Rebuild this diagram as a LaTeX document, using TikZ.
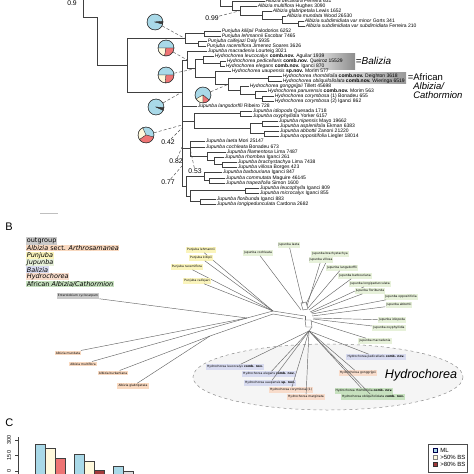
\documentclass[tikz,border=0pt]{standalone}
\usepackage{fontspec}
\setmainfont{Liberation Sans}
\newfontfamily\dejavu{DejaVu Sans}
\definecolor{mlblue}{HTML}{A9D9E8}
\definecolor{bscream}{HTML}{FFF9DC}
\definecolor{bsred}{HTML}{EE7474}
\definecolor{bsdark}{HTML}{3A3A3A}
\definecolor{darkred}{HTML}{A33A3A}
\definecolor{cOut}{HTML}{CACACA}
\definecolor{cArt}{HTML}{F9D9C0}
\definecolor{cPun}{HTML}{FAF4BC}
\definecolor{cJup}{HTML}{E7F1DA}
\definecolor{cBal}{HTML}{D8DBF0}
\definecolor{cHyd}{HTML}{F8DCCB}
\definecolor{cAfr}{HTML}{C7E1BF}
\tikzset{
 twig/.style={draw=black!75,line width=.55pt},
 taxon/.style={anchor=west,inner sep=0.6pt,font=\fontsize{5}{5.5}\selectfont},
 support/.style={densely dashed,line width=.45pt,draw=black!70},
 bsval/.style={font=\fontsize{6.8}{7}\selectfont,inner sep=0.3pt},
 pienode/.style={circle,minimum size=16pt,inner sep=0pt},
 nettaxon/.style={fill=#1,inner sep=1.1pt,font=\dejavu\fontsize{3}{3.5}\selectfont},
 legitem/.style={fill=#1,inner sep=0.6pt,anchor=west,font=\dejavu\fontsize{6.5}{7}\selectfont},
 netline/.style={draw=black!60,line width=.45pt},
 barbox/.style={fill=#1,draw=black!75,line width=.6pt},
}
% pie of ML / BS support at a node
\newcommand{\supportpie}[2]{%
 \foreach \a/\b/\c in {#2}{\filldraw[fill=\c,draw=black!80,line width=.3pt] (#1.center) -- ++(\a:8) arc[start angle=\a,end angle=\b,radius=8] -- cycle;}
 \draw[black!80,line width=.45pt] (#1.center) circle[radius=8];}
\begin{document}
\begin{tikzpicture}[x=1pt,y=-1pt,line width=.55pt]
 \useasboundingbox (0,0) rectangle (474,474);
 %% A: tree, internal nodes
 \foreach \n/\x/\y in {aR/220/-3,a0/232/5.85,a1/240/10.7,a2/262/15.4,a3/282/19.75,a45/298/23.5,
   r0/83/-3,r1/97/17,r2/127/65,p0/185/38.5,pA/204/33.5,pB/198/43.5,s0/182/92,
   h0/187/59.85,h1/195/68.7,b0/203/59.75,b1/220/63.5,u0/215/77.7,f1/228/84.45,f0/268/78.5,
   c3/240/90.4,c2/255/94.75,c12/262/98.5,jio/240/113.5,j4/250/128.5,jna/262/123.5,jao/264/133.5,
   j1/194/121,k1/190/148,kfr/207/156.4,krb/214/160.75,kbv/222/164.5,kb/204/176.25,kct/209/180.5,
   klm/245/190.5,kfl/200/201.5,k2/190/196,k3/186/186}
   \coordinate (\n) at (\x,\y);
 %% grey boxes behind Balizia and African labels
 \shade[left color=black!6,right color=black!45] (311,53) rectangle (355,69);
 \shade[left color=black!6,right color=black!40] (330,72.5) rectangle (406,83.5);
 %% tips
 \foreach \n/\x/\y/\t in {
   A0/265/1/{\textit{Albizia decandra} Ferreira 631},
   A1/257/6/{\textit{Albizia multiflora} Hughes 3090},
   A2/272/11/{\textit{Albizia glabripetala} Lewis 1652},
   A3/286/16/{\textit{Albizia mundata} Wood 26530},
   A4/304/21/{\textit{Albizia subdimidiata var minor} Gorts 341},
   A5/305/26/{\textit{Albizia subdimidiata var subdimidiata} Ferreira 210},
   P1/221/31/{\textit{Punjuba killipii} Palodorios 6252},
   P2/221/36/{\textit{Punjuba lehmannii} Escobar 7465},
   P3/207/41/{\textit{Punjuba caifejazi} Daly 5935},
   P4/206/46/{\textit{Punjuba racemiflora} Jimenez Soares 3626},
   M1/207/51/{\textit{Jupunba macradenia} Lourteig 3021},
   H1/214/56/{\textit{Hydrochorea leucocalyx} \textbf{comb.nov.} Aguilar 1939},
   H2/226/61/{\textit{Hydrochorea pedicellaris} \textbf{comb.nov.} Queiroz 15529},
   H3/225/66/{\textit{Hydrochorea elegans} \textbf{comb.nov.} Iganci 870},
   H4/231/71/{\textit{Hydrochorea uaupensis} \textbf{sp.nov.} Morim 577},
   H5/282/76/{\textit{Hydrochorea rhombifolia} \textbf{comb.nov.} Deighton 3618},
   H6/282/81/{\textit{Hydrochorea obliquifoliolata} \textbf{comb.nov.} Wieringa 6519},
   H7/249/86/{\textit{Hydrochorea gonggrijpii} Tillett 45698},
   H8/267/91/{\textit{Hydrochorea panurensis} \textbf{comb.nov.} Morim 563},
   H9/274/96/{\textit{Hydrochorea corymbosa} (1) Bonadeu 655},
   H10/274/101/{\textit{Hydrochorea corymbosa} (2) Iganci 862},
   L1/197/106/{\textit{Jupunba langsdorffii} Ribeiro 728},
   J1/252/111/{\textit{Jupunba idiopoda} Quesada 1718},
   J2/252/116/{\textit{Jupunba oxyphyllidia} Yorker 6157},
   J3/278/121/{\textit{Jupunba nipensis} Mayo 19662},
   J4/279/126/{\textit{Jupunba asplenifolia} Ekman 6383},
   J5/279/131/{\textit{Jupunba abbottii} Zanoni 21220},
   J6/279/136/{\textit{Jupunba oppositifolia} Liegler 18014},
   K1/205/141/{\textit{Jupunba laeta} Mori 25147},
   K2/205/147/{\textit{Jupunba cochleata} Bonadeu 673},
   K3/226/152/{\textit{Jupunba filamentosa} Lima 7487},
   K4/224/157/{\textit{Jupunba rhombea} Iganci 261},
   K5/237/162/{\textit{Jupunba brachystachya} Lima 7438},
   K6/237/167/{\textit{Jupunba villosa} Borges 423},
   K7/222/172/{\textit{Jupunba barbouriana} Iganci 847},
   K8/225/178/{\textit{Jupunba commutata} Maguire 46145},
   K9/225/183/{\textit{Jupunba trapezifolia} Simon 1600},
   K10/259/188/{\textit{Jupunba leucophylla} Iganci 809},
   K11/259/193/{\textit{Jupunba microcalyx} Iganci 855},
   K12/216/199/{\textit{Jupunba floribunda} Iganci 883},
   K13/216/204/{\textit{Jupunba longipedunculata} Cardona 2682}}
   {\coordinate (\n) at (\x,\y); \node[taxon] (\n l) at (\n) {\t};}
 %% branches
 \foreach \p/\c in {aR/a0,a0/A0,a0/a1,a1/A1,a1/a2,a2/A2,a2/a3,a3/A3,a3/a45,a45/A4,a45/A5,
   r0/r1,r1/r2,r2/p0,r2/s0,p0/pA,p0/pB,pA/P1,pA/P2,pB/P3,pB/P4,
   s0/h0,s0/L1,s0/j1,s0/k1,s0/k3,h0/M1,h0/h1,h1/b0,h1/u0,b0/H1,b0/b1,b1/H2,b1/H3,
   u0/H4,u0/f1,f1/f0,f1/c3,f0/H5,f0/H6,c3/H7,c3/c2,c2/H8,c2/c12,c12/H9,c12/H10,
   j1/jio,j1/j4,jio/J1,jio/J2,j4/jna,j4/jao,jna/J3,jna/J4,jao/J5,jao/J6,
   k1/K1,k1/K2,k1/kfr,kfr/K3,kfr/krb,krb/K4,krb/kbv,kbv/K5,kbv/K6,
   k3/kb,k3/k2,kb/K7,kb/kct,kct/K8,kct/K9,k2/klm,k2/kfl,klm/K10,klm/K11,kfl/K12,kfl/K13}
   \draw[twig] (\p) |- (\c);
 \node[anchor=west,font=\fontsize{10}{12}\selectfont,inner sep=0.5pt] (bal) at (355,61) {=\textit{Balizia}};
 \node[anchor=north west,align=left,font=\fontsize{9.5}{9.3}\selectfont,inner sep=0.5pt] (afr) at (407,72.5)
   {=African\\\hphantom{=}\textit{Albizia/}\\\hphantom{=}\textit{Cathormion}};
 %% support values
 \node[bsval] (v09) at (72,3) {0.9};
 \node[bsval] (v099) at (212,18) {0.99};
 \node[bsval] (v042) at (168,142) {0.42};
 \node[bsval] (v082) at (176,161) {0.82};
 \node[bsval] (v053) at (195,171) {0.53};
 \node[bsval] (v077) at (168,182) {0.77};
 \coordinate (e042) at (182,128);
 \coordinate (e06) at (182,125);
 \coordinate (e082) at (182,147);
 \coordinate (e077) at (182,166);
 \draw[support] (v099) -- (a1);
 \draw[support] (v042) -- (e042);
 \draw[support] (v082) -- (e082);
 \draw[support] (v053) -- (k1);
 \draw[support] (v077) -- (e077);
 %% pies
 \node[pienode] (pie1) at (155,22) {};
 \node[pienode] (pie2) at (166,48) {};
 \node[pienode] (pie3) at (166,75) {};
 \node[pienode] (pie4) at (203,95) {};
 \node[pienode] (pie5) at (156,107) {};
 \node[pienode] (pie6) at (146,135) {};
 \draw[support] (pie1) -- (p0);
 \draw[support] (pie2) -- (h0);
 \draw[support] (pie3) -- (h1);
 \draw[support] (pie4) -- (f1);
 \draw[support] (pie5) -- (s0);
 \draw[support] (pie6) -- (e06);
 \supportpie{pie1}{15/355/mlblue,-5/15/bsdark}
 \supportpie{pie2}{180/360/mlblue,100/180/bscream,0/100/bsred}
 \supportpie{pie3}{180/360/mlblue,95/180/bscream,0/95/bsred}
 \supportpie{pie4}{150/400/mlblue,90/150/bscream,40/90/bsred}
 \supportpie{pie5}{25/365/mlblue,5/25/bsdark}
 \supportpie{pie6}{245/375/mlblue,145/245/bscream,15/145/bsred}
 \draw[black!25,line width=.5pt] (40,213) -- (58,213);
 %% B: network
 \node[anchor=west,font=\fontsize{11}{12}\selectfont,inner sep=0pt] (lblB) at (5,227) {B};
 \foreach \i/\c/\t in {0/cOut/outgroup,1/cArt/{\textit{Albizia} sect. \textit{Arthrosamanea}},
   2/cPun/\textit{Punjuba},3/cJup/\textit{Jupunba},4/cBal/\textit{Balizia},
   5/cHyd/\textit{Hydrochorea},6/cAfr/{African \textit{Albizia/Cathormion}}}
   \node[legitem=\c] (leg\i) at (26,241+7.15*\i) {\t};
 \draw[dashed,black!45,fill=black!4,line width=.5pt] (328,377) ellipse[x radius=135,y radius=33];
 \node[font=\fontsize{12.6}{14}\selectfont\itshape] (hydro) at (421,375) {Hydrochorea};
 \coordinate (hub) at (305,316);
 \coordinate (hubb) at (303,319);
 \coordinate (x1) at (273,311);
 \coordinate (x1b) at (273,314);
 \coordinate (y1) at (247,318);
 \coordinate (y2) at (210,336);
 \coordinate (hh) at (309,331);
 \coordinate (q1) at (305,320); \coordinate (q2) at (311,320);
 \coordinate (q3) at (312,327); \coordinate (q4) at (306,327);
 \coordinate (w1) at (301,303); \coordinate (w2) at (306,302);
 \coordinate (w3) at (308,309); \coordinate (w4) at (303,310);
 \draw[netline] (q1) -- (q2) -- (q3) -- (q4) -- cycle;
 \draw[netline] (w1) -- (w2) -- (w3) -- (w4) -- cycle;
 \draw[netline] (hub) -- (q1);
 \draw[netline] (q3) -- (hh);
 \draw[netline] (x1) -- (hub);
 \draw[netline] (x1b) -- (hubb);
 \draw[netline] (y1) -- (x1);
 \draw[netline] (y2) -- (x1b);
 \node[nettaxon=cOut] (ent) at (78,296) {Enterolobium cyclocarpum};
 \draw[netline] (ent) -- (y1);
 \foreach \n/\x/\y/\t/\e in {ab1/68/353/{Albizia mundata}/y1,ab2/83/364/{Albizia multiflora}/y1,
   ab3/113/373/{Albizia burkartiana}/y2,ab4/133/386/{Albizia glabripetala}/y2}
   {\node[nettaxon=cArt] (\n) at (\x,\y) {\t}; \draw[netline] (\n) -- (\e);}
 \foreach \n/\x/\y/\t in {pu1/201/250/{Punjuba lehmannii},pu2/201/258/{Punjuba killipii},
   pu3/187/267/{Punjuba racemiflora},pu4/197/281/{Punjuba caifejazi}}
   {\node[nettaxon=cPun] (\n) at (\x,\y) {\t}; \draw[netline] (\n) -- (x1);}
 \foreach \n/\x/\y/\t/\ex/\ey in {jb1/289/245/{Jupunba laeta}/303/304,
   jb2/258/253/{Jupunba cochleata}/301/310,jb3/330/254/{Jupunba brachystachya}/306/304,
   jb4/321/260/{Jupunba villosa}/307/306,jb5/342/268/{Jupunba langsdorffii}/308/308,
   jb6/355/276/{Jupunba barbouriana}/309/310,jb7/370/284/{Jupunba longipedunculata}/310/312,
   jb8/370/291/{Jupunba floribunda}/311/313,jb9/401/297/{Jupunba oppositifolia}/312/314,
   jb10/399/305/{Jupunba abbottii}/312/316,jb11/392/320/{Jupunba idiopoda}/313/318,
   jb12/389/328/{Jupunba oxyphyllidia}/313/319,jb13/375/341/{Jupunba macradenia}/311/321}
   {\node[nettaxon=cJup] (\n) at (\x,\y) {\t}; \coordinate (\n e) at (\ex,\ey); \draw[netline] (\n) -- (\n e);}
 \foreach \n/\x/\y/\c/\t in {hb1/235/367/cBal/{Hydrochorea leucocalyx \textbf{comb. nov.}},
   hb2/376/357/cBal/{Hydrochorea pedicellaris \textbf{comb. nov.}},
   hb3/269/374/cBal/{Hydrochorea elegans \textbf{comb. nov.}},
   hb4/270/383/cBal/{Hydrochorea uaupensis \textbf{sp. nov.}},
   hb5/358/373/cHyd/{Hydrochorea gonggrijpii},
   hb6/291/390/cHyd/{Hydrochorea corymbosa (1)},
   hb7/306/397/cHyd/{Hydrochorea marginata},
   hb8/364/391/cAfr/{Hydrochorea rhombifolia \textbf{comb. nov.}},
   hb9/373/397/cAfr/{Hydrochorea obliquifoliolata \textbf{comb. nov.}}}
   {\node[nettaxon=\c] (\n) at (\x,\y) {\t}; \draw[netline] (hh) -- (\n);}
 %% C: bar chart
 \node[anchor=west,font=\fontsize{11}{12}\selectfont,inner sep=0pt] (lblC) at (5,423) {C};
 \coordinate (ax0) at (18,437);
 \coordinate (ax1) at (18,476);
 \draw[black!75,line width=.6pt] (ax0) -- (ax1);
 \foreach \y/\t in {440/300,455.5/150,471/0}
   {\draw[black!75,line width=.6pt] (15,\y) -- (18,\y);
    \node[rotate=90,font=\fontsize{5.5}{6}\selectfont,inner sep=0pt] at (9,\y) {\t};}
 \foreach \x/\t/\c in {35/444/mlblue,45/448/bscream,55/458/bsred,74/454/mlblue,84/461/bscream,
   94/470/darkred,113/466/mlblue,123/471.5/black!12}
   \draw[barbox=\c] (\x,477) rectangle (\x+10,\t);
 \draw[black!70,line width=.6pt] (428,444) rectangle (467,472);
 \foreach \i/\f/\d/\t in {0/mlblue/black!70!blue/ML,1/bscream/black!50/{>50\% BS},2/darkred/black!80/{>80\% BS}}
   {\draw[fill=\f,draw=\d,line width=.5pt] (433,448+7*\i) rectangle ++(4,4);
    \node[anchor=west,font=\fontsize{6}{6.5}\selectfont,inner sep=0pt] (key\i) at (440,450+7*\i) {\t};}
\end{tikzpicture}
\end{document}
